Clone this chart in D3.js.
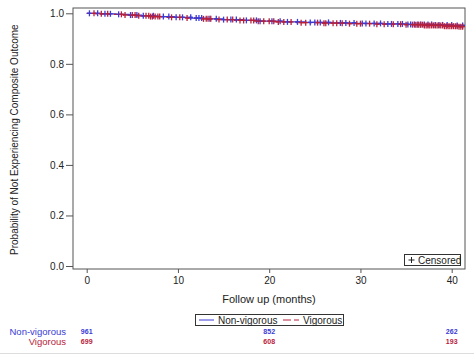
<!DOCTYPE html>
<html><head><meta charset="utf-8">
<script src="https://cdn.jsdelivr.net/npm/d3@7"></script>
<style>
html,body{margin:0;padding:0;background:#fff;}
svg{display:block;font-family:"Liberation Sans",Arial,sans-serif;}
</style></head>
<body>
<svg id="chart" width="474" height="355"></svg>
<script>
// ---- data ----
const groups = ["Non-vigorous", "Vigorous"];
const colors = ["#3a3ad6", "#b8203a"];
// Kaplan-Meier step points (months, survival)
const nvTimes = [0, 1.5, 3.2, 4.6, 6.0, 7.8, 9.6, 11.5, 13.2, 15.0, 17.1, 19.0, 21.5, 24.0, 26.8, 29.5, 32.4, 35.2, 38.0, 40.2];
const nvSurv  = [1.0, 0.998, 0.996, 0.993, 0.990, 0.987, 0.984, 0.981, 0.978, 0.975, 0.972, 0.969, 0.966, 0.964, 0.962, 0.960, 0.958, 0.956, 0.954, 0.952];
const vgTimes = [0, 1.0, 2.5, 4.0, 5.4, 7.0, 8.8, 10.8, 12.4, 14.2, 16.2, 18.4, 20.6, 23.0, 25.8, 28.6, 31.6, 34.6, 37.0, 39.2, 40.8];
const vgSurv  = [1.0, 0.998, 0.996, 0.993, 0.990, 0.987, 0.984, 0.981, 0.978, 0.975, 0.972, 0.969, 0.966, 0.963, 0.961, 0.959, 0.957, 0.955, 0.952, 0.949, 0.947];
const nvCensor = [0.3,1.2,2.0,2.6,3.5,4.8,5.5,6.2,7.3,8.4,9.0,9.8,10.5,11.4,12.0,12.3,12.6,13.5,14.2,15.0,15.8,16.4,17.5,18.6,19.0,20.3,21.2,22.0,23.1,24.5,25.0,25.6,26.5,27.8,28.4,29.3,30.2,30.6,31.5,32.2,33.0,33.4,34.1,34.6,35.2,35.5,35.9,36.3,36.6,37.0,37.4,37.8,38.2,38.6,39.0,39.5,40.0,40.6,41.2];
const vgCensor = [0.8,1.6,2.3,3.8,4.2,5.0,5.3,5.7,6.5,6.8,7.0,7.2,7.5,7.8,8.0,9.3,10.2,11.0,12.8,13.1,13.3,13.6,14.5,15.4,16.0,16.8,17.2,18.0,18.3,18.8,19.4,20.0,20.5,21.0,21.6,22.4,23.5,24.0,25.3,26.0,26.2,27.0,27.4,28.0,28.8,29.6,30.0,31.0,31.8,32.6,33.6,34.4,35.0,35.7,36.0,36.2,36.4,36.6,36.8,37.0,37.2,37.4,37.6,37.8,38.0,38.2,38.4,38.6,38.8,39.0,39.2,39.4,39.6,39.8,40.0,40.2,40.4,40.6,40.8,41.0,41.2];
const xTicks = [0, 10, 20, 30, 40];
const yTicks = [0.0, 0.2, 0.4, 0.6, 0.8, 1.0];
const riskTimes = [0, 20, 40];
const nvRisk = [961, 852, 262];
const vgRisk = [699, 608, 193];
const xTitle = "Follow up (months)";
const yTitle = "Probability of Not Experiencing Composite Outcome";

// ---- layout ----
const svg = d3.select("#chart");
const L = 73, R = 465, T = 8, B = 269;
const x = d3.scaleLinear().domain([0, 40]).range([86.7, 451.7]);
const y = d3.scaleLinear().domain([0, 1]).range([266, 13.3]);
const axisCol = "#555";

// frame
svg.append("rect").attr("x", L).attr("y", T).attr("width", R - L).attr("height", B - T)
  .attr("fill", "none").attr("stroke", axisCol).attr("stroke-width", 1);

// y axis
const yAx = svg.append("g").attr("transform", `translate(${L},0)`)
  .call(d3.axisLeft(y).tickValues(yTicks).tickFormat(d3.format(".1f")).tickSize(7).tickPadding(2));
yAx.select(".domain").remove();
yAx.selectAll("line").attr("stroke", axisCol);
yAx.selectAll("text").attr("font-size", 10).attr("fill", "#222").attr("font-family", "Liberation Sans, Arial");

// x axis
const xAx = svg.append("g").attr("transform", `translate(0,${B})`)
  .call(d3.axisBottom(x).tickValues(xTicks).tickFormat(d3.format("d")).tickSize(4).tickPadding(4));
xAx.select(".domain").remove();
xAx.selectAll("line").attr("stroke", axisCol);
xAx.selectAll("text").attr("font-size", 10).attr("fill", "#222").attr("font-family", "Liberation Sans, Arial");

// titles
svg.append("text").attr("x", (L + R) / 2).attr("y", 302.5).attr("text-anchor", "middle")
  .attr("font-size", 11).attr("fill", "#222").text(xTitle);
svg.append("text").attr("transform", `translate(17.5,${(13.3 + 266) / 2}) rotate(-90)`)
  .attr("text-anchor", "middle").attr("font-size", 10).attr("fill", "#222").text(yTitle);

// curves
const clip = svg.append("clipPath").attr("id", "clp").append("rect")
  .attr("x", L).attr("y", T).attr("width", R - L).attr("height", B - T);
const plot = svg.append("g").attr("clip-path", "url(#clp)");
const xMax = 41.5;
function stepData(times, surv) {
  const pts = times.map((t, i) => [t, surv[i]]);
  pts.push([xMax, surv[surv.length - 1]]);
  return pts;
}
const line = d3.line().x(d => x(d[0])).y(d => y(d[1])).curve(d3.curveStepAfter);
function survAt(times, surv, t) {
  let s = surv[0];
  for (let i = 0; i < times.length; i++) if (times[i] <= t) s = surv[i];
  return s;
}
const series = [
  {times: nvTimes, surv: nvSurv, cens: nvCensor, col: colors[0], dash: null},
  {times: vgTimes, surv: vgSurv, cens: vgCensor, col: colors[1], dash: "4,3"}
];
series.forEach(s => {
  plot.append("path").datum(stepData(s.times, s.surv)).attr("d", line)
    .attr("fill", "none").attr("stroke", s.col).attr("stroke-width", 1.2)
    .attr("stroke-dasharray", s.dash);
});
series.forEach(s => {
  const g = plot.append("g").attr("stroke", s.col).attr("stroke-width", 1.3);
  s.cens.forEach(t => {
    const cx = x(t), cy = y(survAt(s.times, s.surv, t));
    g.append("line").attr("x1", cx).attr("x2", cx).attr("y1", cy - 3).attr("y2", cy + 3);
    g.append("line").attr("x1", cx - 2.3).attr("x2", cx + 2.3).attr("y1", cy).attr("y2", cy);
  });
});

// censored legend
svg.append("rect").attr("x", 404.5).attr("y", 254.5).attr("width", 56).attr("height", 11)
  .attr("fill", "#fff").attr("stroke", "#333").attr("stroke-width", 1);
svg.append("line").attr("x1", 408.5).attr("x2", 414.5).attr("y1", 260).attr("y2", 260).attr("stroke", "#222");
svg.append("line").attr("x1", 411.5).attr("x2", 411.5).attr("y1", 257).attr("y2", 263).attr("stroke", "#222");
svg.append("text").attr("x", 418).attr("y", 263.8).attr("font-size", 10).attr("fill", "#222").text("Censored");

// group legend
const lg = svg.append("g");
lg.append("rect").attr("x", 195.5).attr("y", 314.5).attr("width", 148).attr("height", 11)
  .attr("fill", "#fff").attr("stroke", "#333").attr("stroke-width", 1);
lg.append("line").attr("x1", 199).attr("x2", 214).attr("y1", 320).attr("y2", 320)
  .attr("stroke", colors[0]).attr("stroke-width", 1);
lg.append("text").attr("x", 218).attr("y", 323.8).attr("font-size", 10).attr("fill", "#222").text(groups[0]);
lg.append("line").attr("x1", 283).attr("x2", 299).attr("y1", 320).attr("y2", 320)
  .attr("stroke", colors[1]).attr("stroke-width", 1).attr("stroke-dasharray", "8,3,4,0");
lg.append("text").attr("x", 303).attr("y", 323.8).attr("font-size", 10).attr("fill", "#222").text(groups[1]);

// risk table
const rows = [{name: groups[0], vals: nvRisk, col: colors[0], y: 334.5},
              {name: groups[1], vals: vgRisk, col: colors[1], y: 345}];
rows.forEach(r => {
  svg.append("text").attr("x", 66).attr("y", r.y).attr("text-anchor", "end")
    .attr("font-size", 9.5).attr("fill", r.col).text(r.name);
  riskTimes.forEach((t, i) => {
    svg.append("text").attr("x", x(t)).attr("y", r.y - 0.8).attr("text-anchor", "middle")
      .attr("font-size", 7).attr("font-weight", "bold").attr("fill", r.col).text(r.vals[i]);
  });
});

// bottom edge line
svg.append("line").attr("x1", 0).attr("x2", 474).attr("y1", 353.5).attr("y2", 353.5)
  .attr("stroke", "#ddd").attr("stroke-width", 1);
</script>
</body></html>
